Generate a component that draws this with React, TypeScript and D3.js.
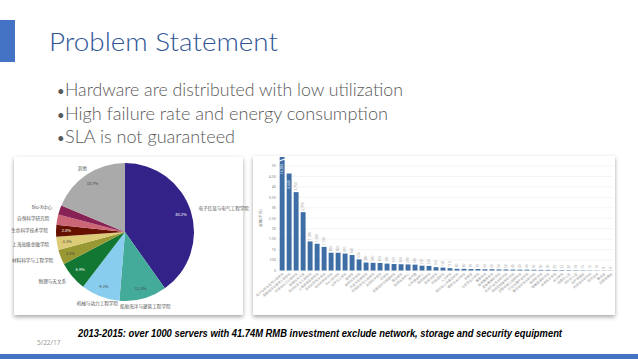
import React from "react";
import * as d3 from "d3";

// slide text
const titleText = "Problem Statement";
const bullets = [
  "Hardware are distributed with low utilization",
  "High failure rate and energy consumption",
  "SLA is not guaranteed",
];
const captionText =
  "2013-2015: over 1000 servers with 41.74M RMB investment exclude network, storage and security equipment";
const dateText = "5/22/17";

// pie: share of investment by school (%)
const pieNames = [
  "电子信息与电气工程学院",
  "船舶海洋与建筑工程学院",
  "机械与动力工程学院",
  "物理与天文系",
  "材料科学与工程学院",
  "上海高级金融学院",
  "生命科学技术学院",
  "自然科学研究院",
  "Bio-X中心",
  "其他",
];
const pieValues = [40.2, 11.1, 9.1, 6.9, 3.5, 3.1, 2.8, 2.4, 2.2, 18.7];
const pieColors = [
  "#332288", "#44AA99", "#88CCEE", "#117733", "#999933",
  "#DDCC77", "#661100", "#CC6677", "#882255", "#AAAAAA",
];

// bars: investment per unit (千元)
const barNames = [
  "电子信息与电气工程学院", "船舶海洋与建筑工程学院", "机械与动力工程学院", "物理与天文系",
  "材料科学与工程学院", "上海高级金融学院", "生命科学技术学院", "自然科学研究院",
  "Bio-X研究院", "化学化工学院", "医学院", "数学科学学院", "农业与生物学院",
  "环境科学与工程学院", "航空航天学院", "药学院", "安泰经济与管理学院", "致远学院",
  "网络信息中心", "图书馆", "分析测试中心", "密西根学院", "凯原法学院", "外国语学院",
  "人文学院", "国际与公共事务学院", "媒体与设计学院", "体育系", "马克思主义学院",
  "教育学院", "继续教育学院", "高等教育研究院", "先进产业技术研究院", "系统生物医学研究院",
  "巴黎卓越工程师学院", "文化创意产业学院", "塑性成形技术研究院", "海洋研究院",
  "低碳能源研究院", "未来技术学院", "设计学院", "党委办公室", "校长办公室",
  "资产管理处", "科学技术研究院", "研究生院", "教务处", "后勤保障处",
];
const barValues = [
  16780, 4640, 3750, 2790, 1390, 1280, 1130, 850, 850, 810, 740, 530, 380, 370, 360, 330,
  310, 300, 290, 280, 230, 220, 160, 140, 110, 80, 80, 70, 70, 60, 60, 50, 50, 45, 40, 40,
  35, 30, 30, 25, 22, 20, 18, 15, 12, 10, 9, 8,
];
const yTicks = [0, 500, 1000, 1500, 2000, 2500, 3000, 3500, 4000, 4500, 5000];
const yTickLabels = ["0", "500", "1K", "1.5K", "2K", "2.5K", "3K", "3.5K", "4K", "4.5K", "5K"];
const yTitle = "金额(千元)";

const W = 638;
const H = 359;
const cjk = "'Noto Sans CJK SC', 'Noto Sans', sans-serif";

function PieChart() {
  const cx = 125, cy = 232, r = 69;
  const pie = d3.pie<number>().sort(null).value((d) => d);
  const arcs = pie(pieValues);
  const arc = d3.arc<d3.PieArcDatum<number>>().innerRadius(0).outerRadius(r);
  const fmt = d3.format(".1f");
  const darkSlices = new Set([0, 3, 6, 8]);

  return (
    <g transform={`translate(${cx},${cy})`}>
      {arcs.map((a, i) => (
        <path key={i} d={arc(a) || ""} fill={pieColors[i]} />
      ))}
      {arcs.map((a, i) => {
        const mid = (a.startAngle + a.endAngle) / 2;
        const s = Math.sin(mid), c = Math.cos(mid);
        const ox = s * (r + 8), oy = -c * (r + 8);
        const anchor = s > 0.6 ? "start" : s < -0.6 ? "end" : "middle";
        const ir = r * 0.85;
        const showInner = pieValues[i] >= 2.7;
        return (
          <g key={"l" + i}>
            <text x={ox} y={oy} dy="0.35em" textAnchor={anchor}
              fontSize={4.6} fill="#555" fontFamily={cjk}>
              {pieNames[i]}
            </text>
            {showInner && (
              <text x={s * ir} y={-c * ir} dy="0.35em" textAnchor="middle"
                fontSize={4} fill={darkSlices.has(i) ? "#fff" : "#444"} fontFamily={cjk}>
                {fmt(pieValues[i]) + "%"}
              </text>
            )}
          </g>
        );
      })}
    </g>
  );
}

function BarChart() {
  const x = d3.scaleBand<string>().domain(barNames).range([279, 614]).paddingInner(0.3).paddingOuter(0.1);
  const y = d3.scaleLinear().domain([0, 5000]).range([270.5, 166]);
  const topClip = 157;
  const fmt = d3.format(",");

  return (
    <g>
      {yTicks.map((t, i) => (
        <g key={t}>
          <line x1={278} x2={613} y1={y(t)} y2={y(t)} stroke="#ececec" strokeWidth={0.6} />
          <text x={276} y={y(t)} dy="0.35em" textAnchor="end" fontSize={3.6} fill="#888"
            fontFamily="'Noto Sans', sans-serif">
            {yTickLabels[i]}
          </text>
        </g>
      ))}
      <text transform={`translate(262,218) rotate(-90)`} textAnchor="middle" fontSize={3.8}
        fill="#666" fontFamily={cjk}>
        {yTitle}
      </text>
      {barValues.map((v, i) => {
        const bx = x(barNames[i]) as number;
        const bw = x.bandwidth();
        const top = Math.max(y(v), topClip);
        const broken = y(v) < topClip;
        const cxm = bx + bw / 2;
        return (
          <g key={i}>
            <rect x={bx} y={top} width={bw} height={y(0) - top} fill="#3E6EA5" />
            {broken && (
              <line x1={bx - 0.5} x2={bx + bw + 0.5} y1={top + 4} y2={top + 2}
                stroke="#fff" strokeWidth={1.2} />
            )}
            {i < 2 ? (
              <text transform={`translate(${cxm},${top + 7}) rotate(-90)`} dy="0.35em"
                textAnchor="end" fontSize={3.2} fill="#fff" fontFamily="'Noto Sans', sans-serif">
                {fmt(v)}
              </text>
            ) : (
              <text transform={`translate(${cxm},${top - 1.5}) rotate(-90)`} dy="0.35em"
                textAnchor="start" fontSize={3.2} fill="#999" fontFamily="'Noto Sans', sans-serif">
                {fmt(v)}
              </text>
            )}
            <text transform={`translate(${cxm + 1},${y(0) + 3}) rotate(-40)`} dy="0.35em"
              textAnchor="end" fontSize={3.2} fill="#999" fontFamily={cjk}>
              {barNames[i]}
            </text>
          </g>
        );
      })}
    </g>
  );
}

export default function App() {
  return (
    <svg width={W} height={H} style={{ position: "absolute", left: 0, top: 0, background: "#fff" }}>
      <defs>
        <filter id="shadow" x="-5%" y="-5%" width="110%" height="115%">
          <feDropShadow dx={0} dy={2} stdDeviation={2} floodColor="#000" floodOpacity={0.35} />
        </filter>
      </defs>
      <rect x={0} y={0} width={W} height={H} fill="#fff" />
      <rect x={0} y={20} width={15} height={42} fill="#4472C4" />
      <text x={49} y={51} fontSize={25} fill="#2F5597" fontFamily="Lato, 'Noto Sans', sans-serif"
        fontWeight={300} textLength={229} lengthAdjust="spacingAndGlyphs">
        {titleText}
      </text>
      {bullets.map((b, i) => (
        <g key={i}>
          <text x={57} y={96 + i * 23.5} fontSize={13} fill="#595959"
            fontFamily="Lato, 'Noto Sans', sans-serif">•</text>
          <text x={65} y={96 + i * 23.5} fontSize={17} fill="#595959"
            fontFamily="Lato, 'Noto Sans', sans-serif" fontWeight={300}
            textLength={[338, 323, 170][i]} lengthAdjust="spacingAndGlyphs">
            {b}
          </text>
        </g>
      ))}

      <rect x={14} y={157} width={229} height={158} fill="#fff" filter="url(#shadow)" />
      <rect x={253} y={156} width={362} height={159} fill="#fff" filter="url(#shadow)" />
      <PieChart />
      <BarChart />

      <text x={78} y={337} fontSize={10} fontStyle="italic" fontWeight="bold" fill="#000"
        fontFamily="'Liberation Sans', sans-serif" textLength={484} lengthAdjust="spacingAndGlyphs">
        {captionText}
      </text>
      <text x={37} y={345} fontSize={6.5} fill="#9a9a9a" fontFamily="'Noto Sans', sans-serif">
        {dateText}
      </text>
      <rect x={0} y={354} width={W} height={5} fill="#4472C4" />
    </svg>
  );
}
